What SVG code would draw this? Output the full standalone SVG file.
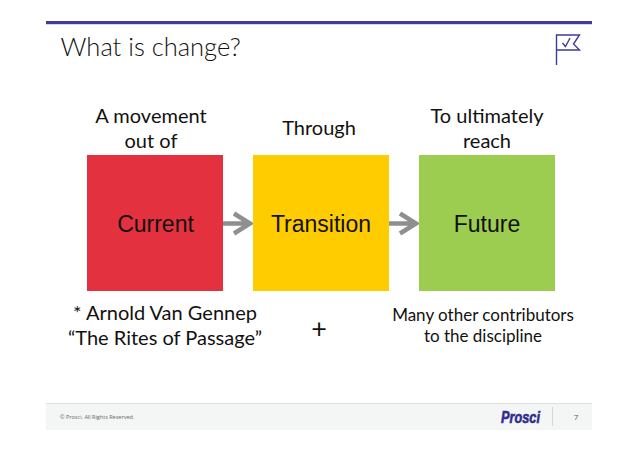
<svg xmlns="http://www.w3.org/2000/svg" width="638" height="451" viewBox="0 0 638 451">
<defs>
<style>
.c{font-family:"Lato","Open Sans",sans-serif;font-size:20px;fill:#111;text-anchor:middle}
.b{font-family:"Liberation Sans",Arial,sans-serif;font-size:23px;fill:#111;text-anchor:middle}
.a{fill:none;stroke:#8f8f8f;stroke-width:4.500}
.f{fill:none;stroke:#3f3d96;stroke-width:1.400}
</style>
</defs>
<rect width="638" height="451" fill="#fff"/>
<g id="header">
<rect x="46" y="21" width="546" height="3.200" fill="#3f3d96"/>
<text x="60.500" y="56" font-family="Lato,'Open Sans',sans-serif" font-size="25.500" font-weight="300" fill="#111">What is change?</text>
<path class="f" d="M556.500 65V35H579.500L573.500 44L579.500 50H556.500"/>
<path class="f" d="M562.500 43L565.500 46.500L570 38"/>
</g>
<g id="connectors">
<path class="a" d="M223 223.500H250M234 213.500L250 223.500L234 233.500"/>
<path class="a" d="M389 223.500H416M400 213.500L416 223.500L400 233.500"/>
</g>
<g id="current">
<rect x="87" y="155" width="136" height="136" fill="#e4313f"/>
<text class="b" x="155.500" y="232">Current</text>
<text class="c" x="151" y="122.500">A movement</text>
<text class="c" x="151" y="147.500">out of</text>
</g>
<g id="transition">
<rect x="253" y="155" width="136" height="136" fill="#ffcc00"/>
<text class="b" x="321" y="232">Transition</text>
<text class="c" x="319" y="135">Through</text>
</g>
<g id="future">
<rect x="419" y="155" width="136" height="136" fill="#9ccc50"/>
<text class="b" x="487" y="232">Future</text>
<text class="c" x="487" y="122.500">To ultimately</text>
<text class="c" x="487" y="147.500">reach</text>
</g>
<g id="notes">
<text class="c" x="165" y="320">* Arnold Van Gennep</text>
<text class="c" x="165" y="345">“The Rites of Passage”</text>
<text class="c" x="319" y="338" style="font-size:27px">+</text>
<text class="c" x="483" y="321" style="font-size:17px">Many other contributors</text>
<text class="c" x="483" y="342" style="font-size:17px">to the discipline</text>
</g>
<g id="footer">
<rect x="46" y="403" width="546" height="27" fill="#f4f5f5"/>
<rect x="46" y="403" width="546" height="1" fill="#dfe1e1"/>
<text x="60" y="419" font-family="'Open Sans',sans-serif" font-size="5.500" fill="#666">© Prosci. All Rights Reserved.</text>
<text x="501" y="423" font-family="'Liberation Sans',Arial,sans-serif" font-size="17" font-weight="700" font-style="italic" fill="#2e2c8c" stroke="#2e2c8c" stroke-width="0.600" textLength="39" lengthAdjust="spacingAndGlyphs">Prosci</text>
<rect x="552" y="407" width="1" height="19" fill="#d5d7d7"/>
<text x="576" y="420" font-family="'Open Sans',sans-serif" font-size="8" fill="#555" text-anchor="middle">7</text>
</g>
</svg>
